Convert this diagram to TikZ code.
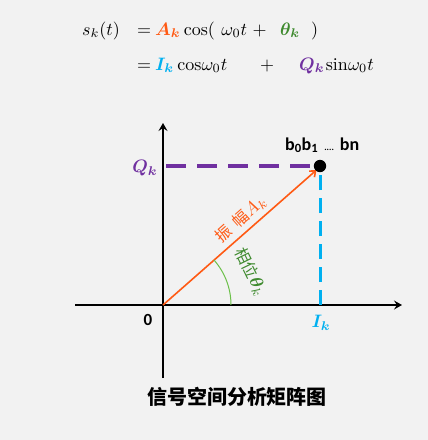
\documentclass[tikz,border=0pt]{standalone}
\usepackage{graphicx}
\usepackage{bm}
\usepackage{fontspec}
\newfontfamily\cjk{Noto Sans CJK SC}
\newfontfamily\lab{Carlito}
\usetikzlibrary{arrows.meta}
\definecolor{bgc}{HTML}{F2F2F2}
\definecolor{corange}{HTML}{FF5A14}
\definecolor{cgreen}{HTML}{3E8A2E}
\definecolor{carc}{HTML}{6CC04A}
\definecolor{cblue}{HTML}{00B0F0}
\definecolor{cpurple}{HTML}{7030A0}
\newcommand{\eqbig}[1]{\scalebox{1.8}{#1}}
\tikzset{
  axis/.style={line width=2pt,-{Stealth[length=8pt,width=9pt,inset=3pt]}},
  eq/.style={anchor=base west,inner sep=0pt},
  qdash/.style={cpurple,line width=4pt,dash pattern=on 20pt off 11pt},
  idash/.style={cblue,line width=3pt,dash pattern=on 15pt off 8pt},
  vec/.style={corange,line width=1.6pt,-{Straight Barb[length=5pt,width=8pt]}},
}
\begin{document}
\begin{tikzpicture}[x=1pt,y=-1pt]
\fill[bgc] (0,0) rectangle (428,440);
\useasboundingbox (0,0) rectangle (428,440);
% equations, line 1
\node[eq] (e1a) at (82,35) {\eqbig{$s_k(t)$}};
\node[eq] (e1b) at (137,35) {\eqbig{$=$}};
\node[eq] (e1c) at (155,35) {\eqbig{$\color{corange}\bm{A_k}$}};
\node[eq] (e1d) at ([xshift=3pt]e1c.base east) {\eqbig{$\mathrm{cos}($}};
\node[eq] (e1e) at ([xshift=6pt]e1d.base east) {\eqbig{$\omega_0 t$}};
\node[eq] (e1f) at ([xshift=5pt]e1e.base east) {\eqbig{$+$}};
\node[eq] (e1g) at (280,35) {\eqbig{$\color{cgreen}\bm{\theta_k}$}};
\node[eq] (e1h) at (311,35) {\eqbig{$)$}};
% line 2
\node[eq] (e2a) at (137,70) {\eqbig{$=$}};
\node[eq] (e2b) at (155,70) {\eqbig{$\color{cblue}\bm{I_k}$}};
\node[eq] (e2c) at ([xshift=3pt]e2b.base east) {\eqbig{$\mathrm{cos}\omega_0 t$}};
\node[eq] (e2d) at (260,70) {\eqbig{$+$}};
\node[eq] (e2e) at (299,70) {\eqbig{$\color{cpurple}\bm{Q_k}$}};
\node[eq] (e2f) at ([xshift=1pt]e2e.base east) {\eqbig{$\mathrm{sin}\omega_0 t$}};
% axes
\coordinate (O) at (163,305);
\coordinate (ybot) at (163,378);
\coordinate (ytop) at (163,123);
\coordinate (xl) at (75,305);
\coordinate (xr) at (402,305);
\draw[axis] (xl) -- (xr);
\draw[axis] (ybot) -- (ytop);
% point
\coordinate (P) at (320,166);
\coordinate (Qs) at (166,166);
\coordinate (Qe) at (310,166);
\coordinate (Is) at (320,305);
\coordinate (Ie) at (320,174);
\coordinate (Ve) at (316.5,170);
\draw[qdash] (Qs) -- (Qe);
\draw[idash] (Is) -- (Ie);
\draw[vec] (O) -- (Ve);
\fill[black] (P) circle (6.2pt);
% angle arc
\draw[carc,line width=1pt] (231,305) arc[start angle=0,delta angle=-41.5,radius=68];
% labels
\node[text=cpurple,inner sep=0pt] (Ql) at (145,168) {\scalebox{1.8}{$\bm{Q_k}$}};
\node[text=cblue,inner sep=0pt] (Il) at (321,323) {\scalebox{1.8}{$\bm{I_k}$}};
\node[font=\lab\bfseries\fontsize{17}{20}\selectfont] (zero) at (148,320) {0};
\node[font=\lab\bfseries\fontsize{18}{20}\selectfont,anchor=base west,inner sep=0pt] (bl) at (285,150) {b\textsubscript{0}b\textsubscript{1}\,\,{\fontsize{9}{9}\selectfont....}\,\,bn};
\node[rotate=41.5,text=corange,inner sep=0pt] (amp) at (241,219) {{\cjk\fontsize{16}{18}\selectfont 振\hspace{6pt}幅}\scalebox{1.8}{$A_k$}};
\node[rotate=-64,text=cgreen,inner sep=0pt] (ph) at (251,272) {{\cjk\fontsize{16}{18}\selectfont 相位}\scalebox{1.8}{$\bm{\theta}_k$}};
\node[font=\cjk\bfseries\fontsize{20}{24}\selectfont] (title) at (237,397) {信号空间分析矩阵图};
\end{tikzpicture}
\end{document}
